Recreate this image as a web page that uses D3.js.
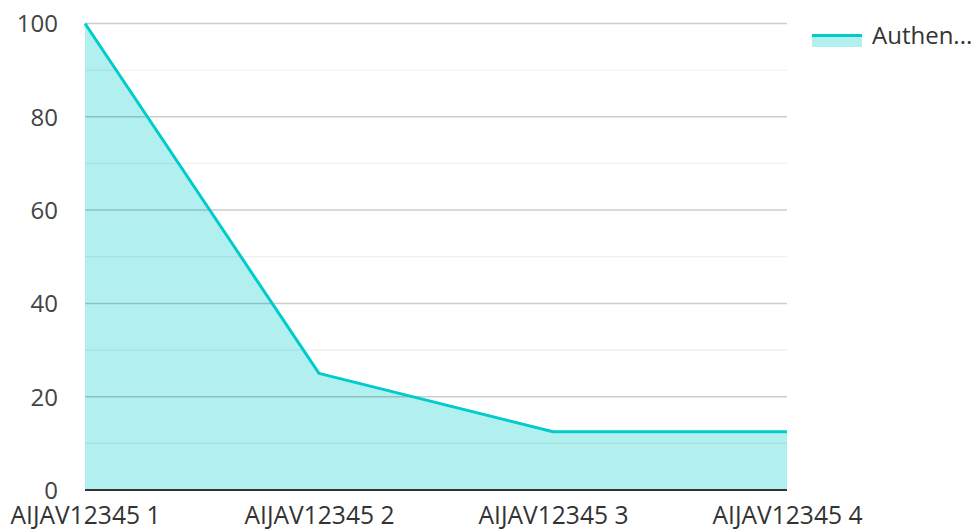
<!DOCTYPE html>
<html>
<head>
<meta charset="utf-8">
<script src="https://cdn.jsdelivr.net/npm/d3@7"></script>
<style>
  body { margin: 0; background: #fff; }
  text { font-family: "Open Sans", "Noto Sans", sans-serif; }
</style>
</head>
<body>
<div id="chart"></div>
<script>
(function(d3) {

  'use strict';

  var categories = ['AIJAV12345 1', 'AIJAV12345 2', 'AIJAV12345 3', 'AIJAV12345 4'];
  var values = [100, 25, 12.5, 12.5];
  var yTicks = [0, 20, 40, 60, 80, 100];
  var minorTicks = [10, 30, 50, 70, 90];
  var seriesName = 'Authen...';

  var width = 977, height = 531;
  var left = 85, right = 787, top = 23.5, bottom = 490;
  var fontSize = '24px';

  var svg = d3.select('#chart')
    .append('svg')
    .attr('width', width)
    .attr('height', height);

  var x = d3.scalePoint().domain(categories).range([left, right]).padding(0);
  var y = d3.scaleLinear().domain([0, 100]).range([bottom, top]);

  // area first, grid drawn over it
  var area = d3.area()
    .x(function(d, i) { return x(categories[i]); })
    .y0(y(0))
    .y1(function(d) { return y(d); });

  svg.append('path')
    .datum(values)
    .attr('d', area)
    .style('fill', '#00cccc')
    .style('fill-opacity', 0.3);

  svg.append('g')
    .selectAll('line')
    .data(minorTicks)
    .enter()
    .append('line')
    .attr('x1', left).attr('x2', right)
    .attr('y1', function(d) { return y(d); })
    .attr('y2', function(d) { return y(d); })
    .style('stroke', '#000')
    .style('stroke-opacity', 0.08)
    .style('stroke-width', 1);

  svg.append('g')
    .selectAll('line')
    .data(yTicks.filter(function(d) { return d > 0; }))
    .enter()
    .append('line')
    .attr('x1', left).attr('x2', right)
    .attr('y1', function(d) { return y(d); })
    .attr('y2', function(d) { return y(d); })
    .style('stroke', '#000')
    .style('stroke-opacity', 0.2)
    .style('stroke-width', 1.5);

  var line = d3.line()
    .x(function(d, i) { return x(categories[i]); })
    .y(function(d) { return y(d); });

  svg.append('path')
    .datum(values)
    .attr('d', line)
    .style('fill', 'none')
    .style('stroke', '#00cccc')
    .style('stroke-width', 3)
    .style('stroke-linejoin', 'round');

  // baseline
  svg.append('line')
    .attr('x1', left).attr('x2', right)
    .attr('y1', y(0)).attr('y2', y(0))
    .style('stroke', '#333')
    .style('stroke-width', 2);

  // y axis labels
  var yAxis = svg.append('g')
    .attr('transform', 'translate(' + (left - 27) + ',0)')
    .call(d3.axisLeft(y).tickValues(yTicks).tickSize(0).tickPadding(0));
  yAxis.select('.domain').remove();
  yAxis.selectAll('text')
    .style('font-size', fontSize)
    .style('fill', '#444')
    .attr('dy', '0.35em');

  // x axis labels, baseline just above the bottom edge
  var xAxis = svg.append('g')
    .attr('transform', 'translate(0,' + (bottom + 11) + ')')
    .call(d3.axisBottom(x).tickSize(0).tickPadding(0));
  xAxis.select('.domain').remove();
  xAxis.selectAll('text')
    .style('font-size', '24.6px')
    .style('fill', '#333')
    .attr('dy', '0.95em');

  // legend
  var legend = svg.append('g').attr('transform', 'translate(812,34)');
  legend.append('rect')
    .attr('x', 0).attr('y', 0)
    .attr('width', 50).attr('height', 13)
    .style('fill', '#00cccc')
    .style('fill-opacity', 0.3);
  legend.append('line')
    .attr('x1', 0).attr('x2', 50)
    .attr('y1', 1.5).attr('y2', 1.5)
    .style('stroke', '#00cccc')
    .style('stroke-width', 3);
  legend.append('text')
    .attr('x', 60).attr('y', 10)
    .style('font-size', fontSize)
    .style('fill', '#333')
    .text(seriesName);

})(d3);
</script>
</body>
</html>
